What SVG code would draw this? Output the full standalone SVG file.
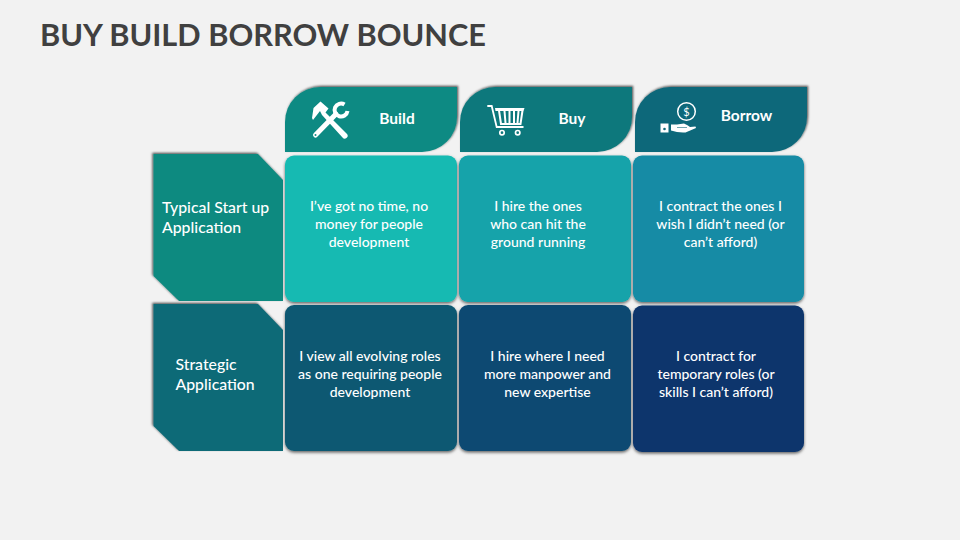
<svg xmlns="http://www.w3.org/2000/svg" width="960" height="540" viewBox="0 0 960 540">
<style>
text{font-family:"Lato","Liberation Sans",sans-serif;fill:#fff}
.title{font-size:31px;font-weight:700;fill:#404040}
.h{font-size:15.5px;font-weight:700;text-anchor:middle}
.r{font-size:15.8px;font-weight:500}
.c{font-size:14px;font-weight:500;text-anchor:middle}
.w{fill:#fff}
.o{fill:none;stroke:#fff}
</style>
<defs>
<filter id="s" x="-5%" y="-5%" width="110%" height="110%"><feDropShadow dx="0" dy="1.500" stdDeviation="1.500" flood-color="#000" flood-opacity=".6"/></filter>
<filter id="sh" x="-5%" y="-8%" width="110%" height="116%"><feDropShadow dx="1.200" dy="-1.200" stdDeviation="1.200" flood-color="#000" flood-opacity=".65"/></filter>
<filter id="sl" x="-5%" y="-5%" width="110%" height="110%"><feDropShadow dx="-1.200" dy="-1.200" stdDeviation="1.200" flood-color="#000" flood-opacity=".65"/></filter>
</defs>
<rect width="960" height="540" fill="#f2f2f2"/>
<text x="40" y="45.500" class="title" textLength="446" lengthAdjust="spacingAndGlyphs">BUY BUILD BORROW BOUNCE</text>

<g id="head-build">
<path d="M285 152V122A35 35 0 0 1 320 87H457V117A35 35 0 0 1 422 152Z" fill="#118a83" filter="url(#sh)"/>
<g id="icon-tools">
<path class="w" d="M320.500 101.500L328.500 108.500L325.500 112.500L347 134A2.800 2.800 0 0 1 342.500 137.500L322 115L320 111L313 120L312 118L313.500 108Z"/>
<path class="o" stroke-width="5" stroke-linecap="round" d="M315.500 135L336 114"/>
<path class="o" stroke-width="4" d="M344.500 104.500A6.500 6.500 0 1 0 347.500 111"/>
<circle cx="315.500" cy="135" r="1" fill="#118a83"/>
</g>
<text x="397" y="124" class="h">Build</text>
</g>

<g id="head-buy">
<path d="M460 152V122A35 35 0 0 1 495 87H632V117A35 35 0 0 1 597 152Z" fill="#11787c" filter="url(#sh)"/>
<g id="icon-cart">
<path class="o" stroke-width="1.800" d="M487.300 106H491.700L496.700 127H523.500"/>
<path class="w" d="M495 108H524.500L523.500 111H495.500Z"/>
<path class="o" stroke-width="2" d="M499 110.500L501 124H520.500L522.500 110.500M504.500 111L505.500 123M509.500 111V123M514 111V123M518.500 111L517.500 123"/>
<circle class="o" stroke-width="1.700" cx="502" cy="132.700" r="2.200"/><circle class="o" stroke-width="1.700" cx="517.700" cy="132.700" r="2.200"/>
</g>
<text x="572" y="124" class="h">Buy</text>
</g>

<g id="head-borrow">
<path d="M635 152V122A35 35 0 0 1 670 87H807V117A35 35 0 0 1 772 152Z" fill="#10687a" filter="url(#sh)"/>
<g id="icon-money">
<circle class="o" stroke-width="1.500" cx="686.500" cy="111.500" r="8.800"/>
<text x="686.500" y="115.500" font-size="11" text-anchor="middle">$</text>
<path class="w" d="M660.500 123.500H668.500V132.500H660.500Z"/>
<circle cx="664.500" cy="129" r="1.300" fill="#10687a"/>
<path class="w" d="M671 124.500H677L684 123.500Q688 125 690 127L695.500 126.500L696 128L685.500 132.500Q678 133 671 130.500Z"/>
<path d="M677 127.500H687" stroke="#10687a" stroke-width=".6"/>
</g>
<text x="746.500" y="121" class="h">Borrow</text>
</g>

<g id="row-typical">
<path d="M153.500 154H258L283 180V301H179L153.500 276Z" fill="#118a80" filter="url(#sl)"/>
<text class="r"><tspan x="162" y="213">Typical Start up</tspan><tspan x="162" y="233">Application</tspan></text>
</g>
<g id="row-strategic">
<path d="M153.500 304H258L283 330V451H179L153.500 426Z" fill="#0f6a77" filter="url(#sl)"/>
<text class="r"><tspan x="175.500" y="370">Strategic</tspan><tspan x="175.500" y="390">Application</tspan></text>
</g>

<g id="cell-1-1"><rect x="285" y="155.500" width="172" height="146.500" rx="9" fill="#14bab2" filter="url(#s)"/>
<text class="c"><tspan x="369" y="211">I’ve got no time, no</tspan><tspan x="369" y="229">money for people</tspan><tspan x="369" y="247">development</tspan></text></g>
<g id="cell-1-2"><rect x="459" y="155.500" width="172" height="146.500" rx="9" fill="#12a3aa" filter="url(#s)"/>
<text class="c"><tspan x="538" y="211">I hire the ones</tspan><tspan x="538" y="229">who can hit the</tspan><tspan x="538" y="247">ground running</tspan></text></g>
<g id="cell-1-3"><rect x="633" y="155.500" width="171" height="146.500" rx="9" fill="#128ba5" filter="url(#s)"/>
<text class="c"><tspan x="720.500" y="211">I contract the ones I</tspan><tspan x="720.500" y="229">wish I didn’t need (or</tspan><tspan x="720.500" y="247">can’t afford)</tspan></text></g>

<g id="cell-2-1"><rect x="285" y="305" width="172" height="146" rx="9" fill="#0d5972" filter="url(#s)"/>
<text class="c"><tspan x="370" y="361">I view all evolving roles</tspan><tspan x="370" y="379">as one requiring people</tspan><tspan x="370" y="397">development</tspan></text></g>
<g id="cell-2-2"><rect x="459" y="305" width="172" height="146" rx="9" fill="#0c4a72" filter="url(#s)"/>
<text class="c"><tspan x="547.500" y="361">I hire where I need</tspan><tspan x="547.500" y="379">more manpower and</tspan><tspan x="547.500" y="397">new expertise</tspan></text></g>
<g id="cell-2-3"><rect x="633" y="305.500" width="171" height="146.500" rx="9" fill="#0b356c" filter="url(#s)"/>
<text class="c"><tspan x="716" y="361">I contract for</tspan><tspan x="716" y="379">temporary roles (or</tspan><tspan x="716" y="397">skills I can’t afford)</tspan></text></g>
</svg>
